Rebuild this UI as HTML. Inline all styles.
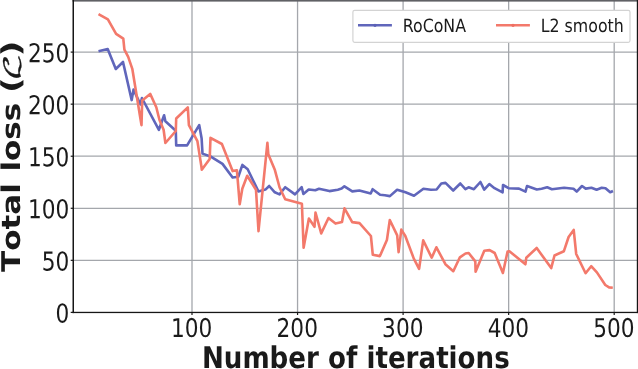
<!DOCTYPE html>
<html><head><meta charset="utf-8"><title>Total loss vs iterations</title>
<style>
html,body{margin:0;padding:0;background:#fff;}
svg{display:block;text-rendering:geometricPrecision;font-family:"DejaVu Sans","Liberation Sans",sans-serif;}
.g line{stroke:#a4a7ac;stroke-width:1.3;}
.t line{stroke:#1a1a1a;stroke-width:1.2;}
.tk text{font-size:26.1px;fill:#1a1a1a;}
.lb{font-weight:bold;font-size:30px;fill:#1a1a1a;}
.lg text{font-size:18.3px;fill:#1a1a1a;}
</style></head><body>
<svg width="638" height="369" viewBox="0 0 638 369">
<rect width="638" height="369" fill="#fff"/>
<g class="g">
<line x1="192.00" y1="0.7" x2="192.00" y2="312.4"/>
<line x1="297.55" y1="0.7" x2="297.55" y2="312.4"/>
<line x1="403.10" y1="0.7" x2="403.10" y2="312.4"/>
<line x1="508.65" y1="0.7" x2="508.65" y2="312.4"/>
<line x1="614.20" y1="0.7" x2="614.20" y2="312.4"/>
<line x1="73.3" y1="260.34" x2="637.2" y2="260.34"/>
<line x1="73.3" y1="208.28" x2="637.2" y2="208.28"/>
<line x1="73.3" y1="156.22" x2="637.2" y2="156.22"/>
<line x1="73.3" y1="104.16" x2="637.2" y2="104.16"/>
<line x1="73.3" y1="52.10" x2="637.2" y2="52.10"/>
</g>
<polyline fill="none" stroke="#6066bb" stroke-width="2.6" stroke-linejoin="round" stroke-linecap="butt" points="98.5,51.2 107.7,49.1 115.8,69.0 123.0,62.0 131.7,100.1 133.5,89.6 140.5,104.5 141.9,98.0 158.9,129.8 164.1,115.3 165.4,121.3 175.8,130.7 176.2,145.4 187.1,145.4 199.2,125.1 201.6,138.2 202.5,153.6 211.2,156.8 222.5,163.9 232.6,177.5 238.3,176.7 242.4,164.9 247.7,169.2 258.4,191.4 265.4,189.6 269.2,186.0 274.8,192.3 279.5,194.4 285.2,187.2 295.0,194.4 301.7,187.2 303.4,194.0 308.7,189.5 315.3,190.3 319.0,188.8 329.4,191.1 337.8,189.7 341.6,188.6 344.4,186.3 352.3,191.4 359.4,190.5 370.7,193.5 372.6,189.2 380.1,194.8 384.8,195.2 389.9,196.1 397.1,189.7 405.5,192.3 414.0,195.7 423.4,188.8 430.9,189.7 436.6,189.5 441.3,183.5 445.5,182.9 453.2,190.5 460.3,183.5 465.4,189.2 468.6,187.3 473.9,189.2 480.4,182.0 484.2,189.7 489.3,184.1 494.5,188.2 502.6,192.3 503.0,185.0 508.6,188.2 519.0,188.6 525.5,191.6 527.0,186.0 536.8,189.5 541.6,188.8 547.2,187.3 551.9,189.2 564.1,187.8 573.5,188.8 576.7,191.6 582.0,186.0 585.7,188.6 591.4,187.7 596.6,189.7 601.7,187.8 605.5,188.2 610.2,192.3 613.0,191.0"/>
<polyline fill="none" stroke="#f3796b" stroke-width="2.6" stroke-linejoin="round" stroke-linecap="butt" points="98.5,14.1 107.9,19.3 116.1,33.9 123.3,38.6 124.4,49.6 128.2,56.9 132.3,68.8 140.4,118.5 141.5,125.1 142.2,100.5 150.2,93.9 156.3,107.2 159.5,120.0 163.6,129.8 165.4,143.0 175.8,131.0 176.2,118.5 187.8,107.4 188.9,125.1 197.4,141.1 201.4,166.5 201.8,169.8 209.7,158.9 210.5,137.8 221.9,144.0 232.6,171.1 236.9,170.2 239.7,204.2 242.3,188.8 247.2,175.8 256.0,189.8 258.5,231.1 267.4,142.9 268.3,154.2 274.9,170.1 279.6,187.5 285.2,199.2 301.9,203.7 303.6,247.7 308.9,218.6 314.5,226.8 315.5,212.5 321.2,233.4 328.5,218.0 335.5,223.6 342.0,222.0 344.5,208.3 352.2,222.1 359.5,223.1 370.9,236.0 372.8,254.8 379.9,256.1 386.9,240.1 389.8,220.0 397.2,235.4 398.6,252.2 401.3,229.6 405.3,236.0 413.8,258.6 419.1,268.9 423.2,240.4 431.7,257.7 436.4,247.3 445.4,264.2 453.3,271.2 459.9,257.3 465.5,253.5 468.7,253.0 475.3,261.4 475.6,271.8 484.3,250.7 489.6,250.1 494.7,253.0 502.9,273.0 507.6,251.5 509.4,251.2 525.4,264.3 526.3,257.7 536.7,248.0 551.2,268.1 554.5,255.5 563.9,251.2 568.6,237.0 573.7,229.9 576.2,254.0 585.6,273.2 591.2,266.2 596.9,272.4 605.3,285.0 609.1,287.4 612.8,287.8"/>
<g class="t">
<line x1="192.00" y1="312.4" x2="192.00" y2="315.0"/>
<line x1="297.55" y1="312.4" x2="297.55" y2="315.0"/>
<line x1="403.10" y1="312.4" x2="403.10" y2="315.0"/>
<line x1="508.65" y1="312.4" x2="508.65" y2="315.0"/>
<line x1="614.20" y1="312.4" x2="614.20" y2="315.0"/>
<line x1="70.7" y1="312.40" x2="73.3" y2="312.40"/>
<line x1="70.7" y1="260.34" x2="73.3" y2="260.34"/>
<line x1="70.7" y1="208.28" x2="73.3" y2="208.28"/>
<line x1="70.7" y1="156.22" x2="73.3" y2="156.22"/>
<line x1="70.7" y1="104.16" x2="73.3" y2="104.16"/>
<line x1="70.7" y1="52.10" x2="73.3" y2="52.10"/>
</g>
<rect x="72.5" y="0" width="565.5" height="1.6" fill="#606165"/>
<rect x="636.8" y="0" width="1.2" height="313.1" fill="#161616"/>
<rect x="72.5" y="0" width="1.5" height="313.1" fill="#161616"/>
<rect x="72.5" y="311.8" width="565.5" height="1.3" fill="#161616"/>
<g class="tk">
<text style="font-size:25.8px" transform="translate(191.70 336.85) scale(0.84 1)" text-anchor="middle">100</text>
<text style="font-size:25.8px" transform="translate(297.25 336.85) scale(0.84 1)" text-anchor="middle">200</text>
<text style="font-size:25.8px" transform="translate(402.80 336.85) scale(0.84 1)" text-anchor="middle">300</text>
<text style="font-size:25.8px" transform="translate(508.35 336.85) scale(0.84 1)" text-anchor="middle">400</text>
<text style="font-size:25.8px" transform="translate(613.90 336.85) scale(0.84 1)" text-anchor="middle">500</text>
<text transform="translate(69.3 322.50) scale(0.83 1) rotate(0.03)" text-anchor="end">0</text>
<text transform="translate(69.3 270.44) scale(0.83 1) rotate(0.03)" text-anchor="end">50</text>
<text transform="translate(69.3 218.38) scale(0.83 1) rotate(0.03)" text-anchor="end">100</text>
<text transform="translate(69.3 166.32) scale(0.83 1) rotate(0.03)" text-anchor="end">150</text>
<text transform="translate(69.3 114.26) scale(0.83 1) rotate(0.03)" text-anchor="end">200</text>
<text transform="translate(69.3 62.20) scale(0.83 1) rotate(0.03)" text-anchor="end">250</text>
</g>
<g class="lg">
<rect x="352.9" y="10.3" width="277.1" height="32.1" rx="1.8" fill="#fff" stroke="#d3d3d3" stroke-width="1.2"/>
<line x1="358" y1="25.3" x2="391.9" y2="25.3" stroke="#6066bb" stroke-width="2.5"/>
<line x1="496" y1="25.3" x2="529.9" y2="25.3" stroke="#f3796b" stroke-width="2.5"/>
<circle cx="375" cy="25.3" r="1.6" fill="#5a60b6"/>
<circle cx="513" cy="25.3" r="1.6" fill="#ee6f61"/>
<text id="lg1" transform="translate(402.7 31.8) scale(0.865 1)">RoCoNA</text>
<text id="lg2" transform="translate(540.7 31.8) scale(0.865 1)">L2 smooth</text>
</g>
<text id="xl" class="lb" transform="translate(355.8 367.8) scale(0.871 1)" text-anchor="middle">Number of iterations</text>
<text id="yl" class="lb" style="font-size:31px;font-kerning:none;word-spacing:0.8px" transform="translate(20.1 272) scale(0.832 1) rotate(-90)">Total loss </text>
<text id="yl1" class="lb" style="font-size:29px" transform="translate(20.1 93) rotate(-90) scale(1.2 0.9)">(</text>
<text id="yl2" class="lb" style="font-family:'DejaVu Math TeX Gyre','DejaVu Sans',serif;font-weight:normal;font-size:26.9px;stroke:#1a1a1a;stroke-width:0.35px" transform="translate(20.1 80.6) rotate(-90) scale(1.32 0.832)">ℒ</text>
<text id="yl3" class="lb" style="font-size:29px" transform="translate(20.1 56.6) rotate(-90) scale(1.2 0.9)">)</text>
</svg>
</body></html>
